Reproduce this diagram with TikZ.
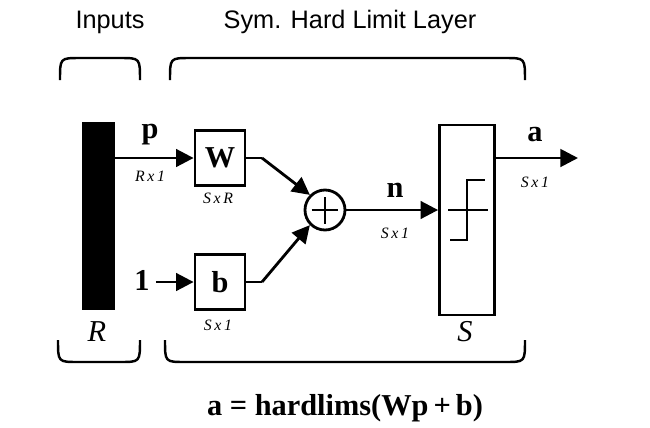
\documentclass[tikz,border=0pt]{standalone}
\usepackage{fontspec}
\setmainfont{Liberation Serif}
\newfontfamily\hsans{Liberation Sans}
\usetikzlibrary{arrows.meta}
\begin{document}
\begin{tikzpicture}[x=0.02cm,y=-0.02cm,
  box/.style={draw,line width=1.6pt,minimum width=1cm,minimum height=1.1cm,inner sep=0pt},
  ar/.style={line width=1.6pt,-{Triangle[length=10pt,width=10pt]}},
  ln/.style={line width=1.6pt},
  dim/.style={font=\itshape\small},
  br/.style={line width=1.4pt}]
\useasboundingbox (0,0) rectangle (650,427);
\node[font=\hsans\Large] (tin) at (110,22) {Inputs};
\node[font=\hsans\Large] (tl) at (350,22) {Sym. Hard Limit Layer};
\draw[br] (60,80) .. controls (60,58) .. (80,58) -- (120,58) .. controls (140,58) .. (140,80);
\draw[br] (170,80) .. controls (170,58) .. (190,58) -- (505,58) .. controls (525,58) .. (525,80);
\draw[br] (58,340) .. controls (58,362) .. (78,362) -- (120,362) .. controls (140,362) .. (140,340);
\draw[br] (165,340) .. controls (165,362) .. (185,362) -- (505,362) .. controls (525,362) .. (525,340);
\node[fill=black,minimum width=0.66cm,minimum height=3.76cm,inner sep=0pt] (bar) at (98.5,216) {};
\node[box] (W) at (220,158) {\LARGE\bfseries W};
\node[box] (b) at (220,282) {\LARGE\bfseries b};
\node[draw,circle,line width=1.6pt,minimum size=0.8cm,inner sep=0pt] (sum) at (325,210) {};
\draw[line width=1.4pt] ([xshift=-0.27cm]sum.center) -- ([xshift=0.27cm]sum.center) ([yshift=-0.27cm]sum.center) -- ([yshift=0.27cm]sum.center);
\node[draw,line width=1.6pt,minimum width=1.1cm,minimum height=3.8cm,inner sep=0pt] (hl) at (467,220) {};
\node[font=\LARGE\bfseries] (pl) at (150,135) {p};
\node[dim] (pd) at (150,176) {R\,x\,1};
\node[dim] (wd) at (218,198) {S\,x\,R};
\node[dim] (bd) at (218,325) {S\,x\,1};
\node[font=\LARGE\bfseries] (one) at (142,280) {1};
\node[font=\LARGE\bfseries] (nl) at (395,190) {n};
\node[dim] (nd) at (395,233) {S\,x\,1};
\node[font=\LARGE\bfseries] (al) at (535,135) {a};
\node[dim] (ad) at (535,182) {S\,x\,1};
\node[font=\LARGE\itshape] (Rl) at (97,332) {R};
\node[font=\LARGE\itshape] (Sl) at (465,332) {S};
\node[font=\LARGE\bfseries] (eq) at (345,408) {a = hardlims(Wp\,+\,b)};
\coordinate (out) at (578,158);
\coordinate (wj) at (262,158);
\coordinate (bj) at (262,282);
\draw[ar] (bar.east |- W) -- (W.west);
\draw[ar] (one.east |- b) -- (b.west);
\draw[ln] (W.east) -- (wj);
\draw[ar] (wj) -- (sum.north west);
\draw[ln] (b.east) -- (bj);
\draw[ar] (bj) -- (sum.south west);
\draw[ar] (sum.east) -- (sum.east -| hl.west);
\draw[ar] (hl.east |- W) -- (out);
\draw[line width=1.4pt] (448,210) -- (488,210) (450,240) -- (467,240) -- (467,180) -- (485,180);
\end{tikzpicture}
\end{document}
